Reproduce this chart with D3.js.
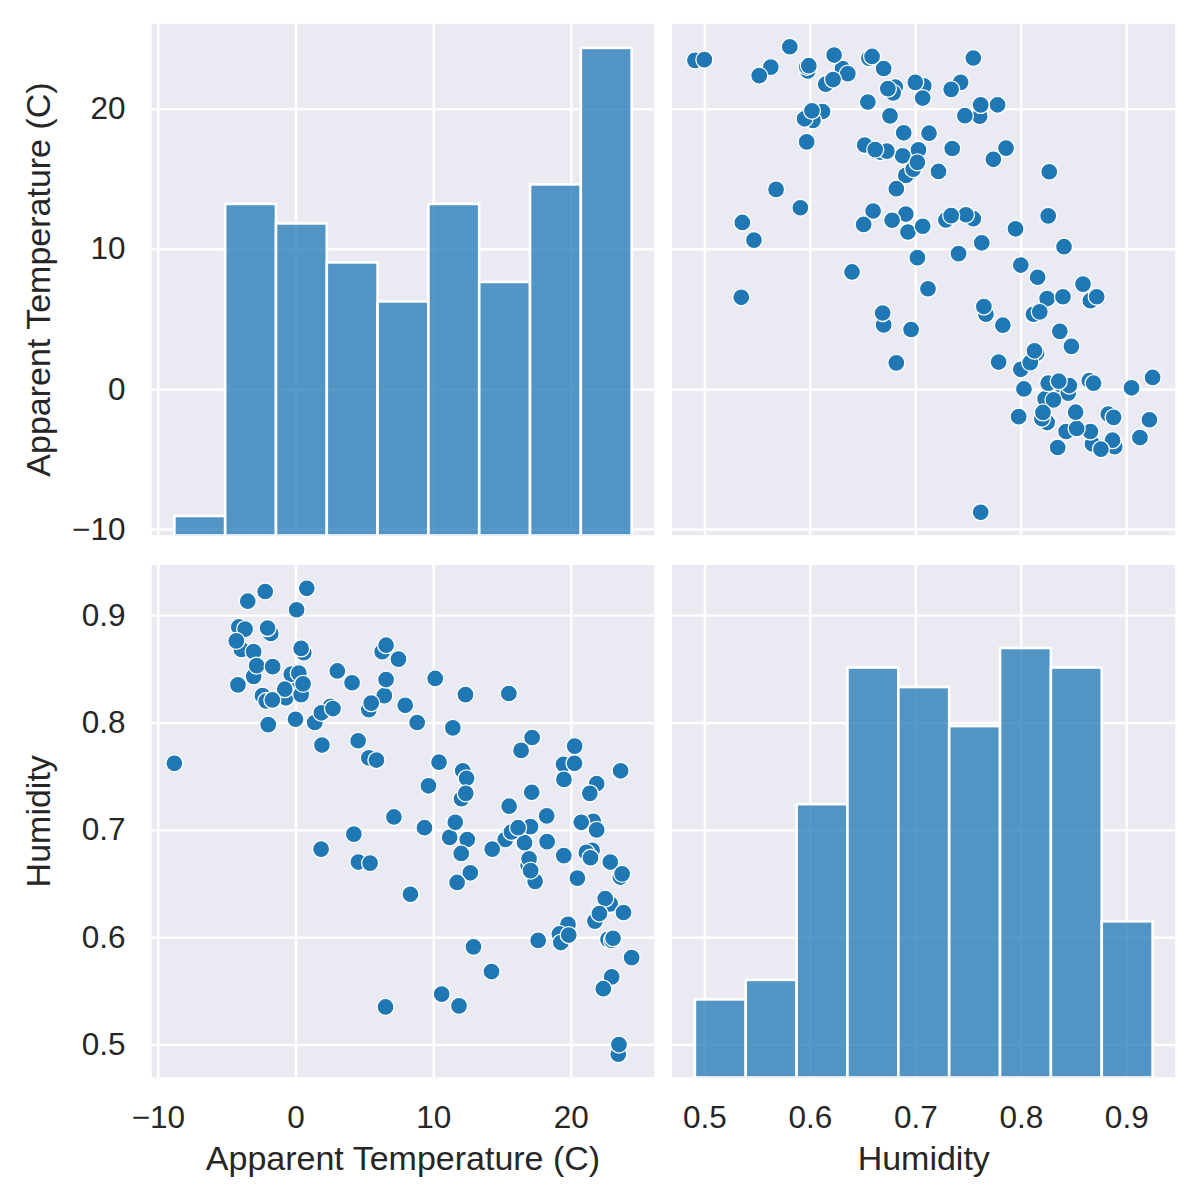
<!DOCTYPE html>
<html><head><meta charset="utf-8">
<script src="https://cdn.jsdelivr.net/npm/d3@7"></script>
<style>
body{margin:0;background:#fff}
svg text{font-family:"Liberation Sans",Arial,sans-serif;fill:#262626}
</style></head><body>
<svg id="chart" width="1200" height="1201"></svg>
<script>
const temperature = [
22.86,21.55,22.7,15.45,16.4,16.9,-2.4,0.3,2.62,5.45,
-1.8,-3.93,0.6,-3.04,-0.31,-0.7,0.41,-2.13,2.55,6.3,6.45,5.33,19.47,21.88,12.15,12.06,4.57,11.2,15.24,15.69,17.07,16.64,17.41,21.63,21.13,23.6,21.75,22.99,19.8,19.17,19.28,23.45,5.33,
-8.8,-3.47,-2.2,0.82,0.08,-4.12,-3.66,-2.03,-4.3,-3.04,0.41,-2.82,-1.66,-4.18,0.24,0.55,-0.78,-1.68,-1.98,0.0,1.4,1.88,2.72,1.92,3.04,4.11,6.58,7.48,6.58,5.5,7.97,8.84,10.15,12.35,15.5,11.43,17.19,16.39,20.28,20.27,19.5,23.62,21.38,10.43,12.43,9.66,12.37,17.16,15.52,7.15,4.24,1.86,5.42,8.35,6.54,9.37,11.61,12.48,12.04,12.7,11.74,14.29,16.17,16.97,17.08,18.25,18.28,19.49,20.76,21.88,21.43,22.87,23.73,20.48,22.5,22.08,23.83,23.07,19.85,17.63,12.93,14.24,10.62,11.88,24.42,22.97,22.36,23.5,4.55,5.88
];
const humidity = [
0.631,0.681,0.598,0.695,0.698,0.667,0.825,0.838,0.814,0.815,
0.883,0.868,0.865,0.843,0.845,0.823,0.826,0.820,0.815,0.866,0.825,0.812,0.761,0.743,0.755,0.729,0.670,0.693,0.691,0.698,0.703,0.688,0.652,0.708,0.679,0.656,0.615,0.597,0.612,0.603,0.595,0.491,0.767,
0.762,0.913,0.922,0.925,0.905,0.889,0.887,0.888,0.876,0.866,0.869,0.853,0.852,0.835,0.846,0.836,0.831,0.821,0.798,0.803,0.800,0.809,0.813,0.779,0.848,0.837,0.872,0.859,0.840,0.818,0.816,0.800,0.841,0.826,0.827,0.795,0.786,0.774,0.778,0.762,0.747,0.755,0.734,0.763,0.748,0.741,0.734,0.735,0.722,0.712,0.696,0.682,0.669,0.640,0.535,0.702,0.707,0.691,0.678,0.660,0.651,0.682,0.702,0.673,0.662,0.713,0.689,0.676,0.707,0.700,0.674,0.670,0.659,0.655,0.636,0.622,0.623,0.599,0.602,0.597,0.591,0.568,0.547,0.536,0.581,0.563,0.552,0.500,0.783,0.765
];
// Histogram counts (9 equal-width bins between min and max)
const tempCounts = [1,17,16,14,12,17,13,18,25];
const humCounts = [4,5,14,21,20,18,22,21,8];
// Tick values
const tempTicks = [-10,0,10,20];
const humTicks = [0.5,0.6,0.7,0.8,0.9];
const tempLabel = "Apparent Temperature (C)";
const humLabel = "Humidity";

const svg = d3.select("#chart");
const cols = [[151.5,654.5],[672,1175.5]];
const rows = [[23.5,535.5],[565,1077.5]];
const BLUE = "#1f77b4", BG = "#eaeaf2";

function padded(arr){const e=d3.extent(arr);const m=(e[1]-e[0])*0.05;return [e[0]-m,e[1]+m];}
const fmtTemp = d => d<0 ? "\u2212"+Math.abs(d) : String(d);
const vars = [
  {name:tempLabel, values:temperature, ticks:tempTicks, fmt:fmtTemp, counts:tempCounts},
  {name:humLabel, values:humidity, ticks:humTicks, fmt:d3.format(".1f"), counts:humCounts}
];
const xS = vars.map((v,i)=>d3.scaleLinear().domain(padded(v.values)).range(cols[i]));
const yS = vars.map((v,i)=>d3.scaleLinear().domain(padded(v.values)).range([rows[i][1],rows[i][0]]));
const maxCount = d3.max(vars.flatMap(v=>v.counts));

const defs = svg.append("defs");
for(let r=0;r<2;r++){
  for(let c=0;c<2;c++){
    const [x0,x1]=cols[c],[y0,y1]=rows[r];
    const w=x1-x0,h=y1-y0;
    const id=`clip${r}${c}`;
    defs.append("clipPath").attr("id",id).append("rect").attr("x",x0).attr("y",y0).attr("width",w).attr("height",h);
    const g=svg.append("g").attr("clip-path",`url(#${id})`);
    g.append("rect").attr("x",x0).attr("y",y0).attr("width",w).attr("height",h).attr("fill",BG);
    // grid
    g.append("g").attr("transform",`translate(0,${y1})`)
      .call(d3.axisBottom(xS[c]).tickValues(vars[c].ticks).tickSize(-h).tickFormat(""))
      .call(a=>a.select(".domain").remove())
      .call(a=>a.selectAll("line").attr("stroke","#fff").attr("stroke-width",2.4));
    g.append("g").attr("transform",`translate(${x0},0)`)
      .call(d3.axisLeft(yS[r]).tickValues(vars[r].ticks).tickSize(-w).tickFormat(""))
      .call(a=>a.select(".domain").remove())
      .call(a=>a.selectAll("line").attr("stroke","#fff").attr("stroke-width",2.4));
    if(r===c){
      const v=vars[c];
      const [lo,hi]=d3.extent(v.values);
      const n=v.counts.length;
      const bins=v.counts.map((k,i)=>({x0:lo+(hi-lo)*i/n,x1:lo+(hi-lo)*(i+1)/n,count:k}));
      const yc=d3.scaleLinear().domain([0,maxCount*1.05]).range([y1,y0]);
      g.selectAll("rect.bar").data(bins).join("rect").attr("class","bar")
        .attr("x",d=>xS[c](d.x0)).attr("width",d=>xS[c](d.x1)-xS[c](d.x0))
        .attr("y",d=>yc(d.count)).attr("height",d=>yc(0)-yc(d.count))
        .attr("fill",BLUE).attr("fill-opacity",0.75)
        .attr("stroke","#fff").attr("stroke-width",2.6);
    } else {
      const xv=vars[c].values, yv=vars[r].values;
      g.selectAll("circle").data(d3.range(xv.length)).join("circle")
        .attr("cx",i=>xS[c](xv[i])).attr("cy",i=>yS[r](yv[i])).attr("r",8.5)
        .attr("fill",BLUE).attr("stroke","#fff").attr("stroke-width",1.3);
    }
  }
}
// tick labels
for(let r=0;r<2;r++){
  svg.append("g").attr("transform",`translate(${cols[0][0]},0)`)
    .call(d3.axisLeft(yS[r]).tickValues(vars[r].ticks).tickSize(0).tickPadding(26).tickFormat(vars[r].fmt))
    .call(a=>a.select(".domain").remove())
    .call(a=>a.selectAll("text").attr("font-size",31.5).attr("fill","#262626").attr("font-family",null));
}
for(let c=0;c<2;c++){
  svg.append("g").attr("transform",`translate(0,${rows[1][1]})`)
    .call(d3.axisBottom(xS[c]).tickValues(vars[c].ticks).tickSize(0).tickPadding(28).tickFormat(vars[c].fmt))
    .call(a=>a.select(".domain").remove())
    .call(a=>a.selectAll("text").attr("font-size",31.5).attr("fill","#262626").attr("font-family",null));
}
// axis labels
for(let c=0;c<2;c++){
  svg.append("text").attr("x",(cols[c][0]+cols[c][1])/2).attr("y",1170)
    .attr("text-anchor","middle").attr("font-size",34).text(vars[c].name);
}
for(let r=0;r<2;r++){
  svg.append("text").attr("transform",`translate(50,${(rows[r][0]+rows[r][1])/2}) rotate(-90)`)
    .attr("text-anchor","middle").attr("font-size",34).text(vars[r].name);
}
</script>
</body></html>
